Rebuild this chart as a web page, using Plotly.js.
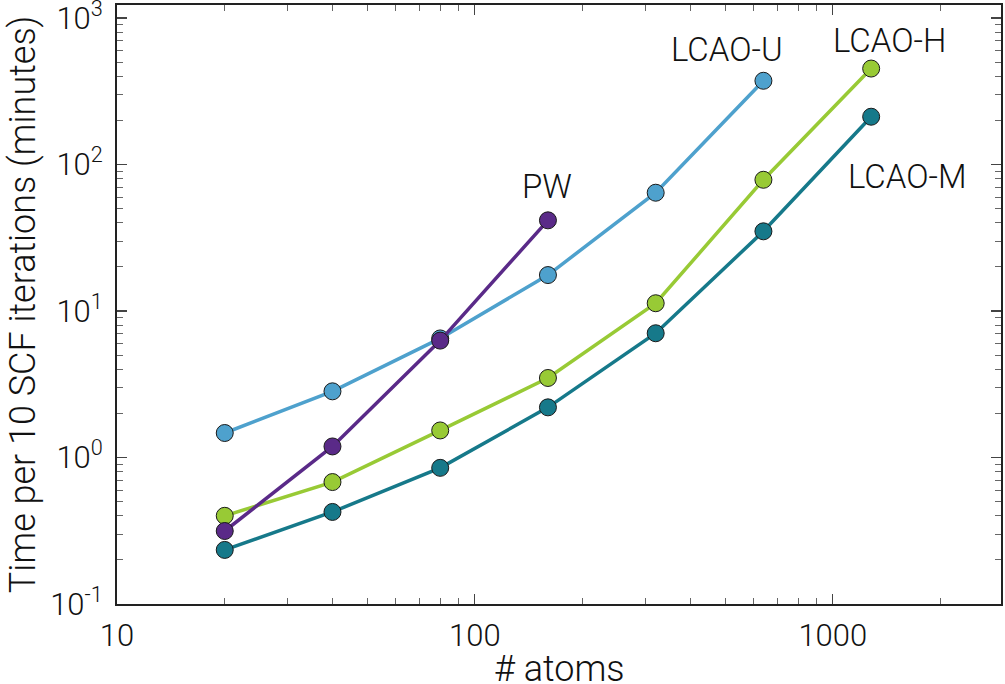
<!DOCTYPE html>
<html>
<head>
<meta charset="utf-8">
<script src="https://cdn.plot.ly/plotly-3.0.1.min.js"></script>
<style>html,body{margin:0;padding:0;background:#fff;}#chart{width:1005px;height:684px;}</style>
</head>
<body>
<div id="chart"></div>
<script>
// ---- data ----
const atoms = [20, 40, 80, 160, 320, 640, 1280];
const lcaoM = [0.234, 0.425, 0.85, 2.2, 7.05, 35.0, 212];
const lcaoH = [0.40, 0.68, 1.53, 3.49, 11.3, 78.7, 452];
const lcaoU = [1.47, 2.83, 6.5, 17.6, 64.2, 373];
const pw    = [0.315, 1.19, 6.28, 41.6];
const seriesNames = ['LCAO-M', 'LCAO-H', 'LCAO-U', 'PW'];
const xTickVals = [10, 100, 1000];
const xTickText = ['10', '100', '1000'];
const yTickVals = [0.1, 1, 10, 100, 1000];
const yTickText = ['10<sup>-1</sup>', '10<sup>0</sup>', '10<sup>1</sup>', '10<sup>2</sup>', '10<sup>3</sup>'];
const xMinor = [20,30,40,50,60,70,80,90,200,300,400,500,600,700,800,900,2000];
const yMinor = [];
[0.1, 1, 10, 100].forEach(d => { for (let k = 2; k <= 9; k++) yMinor.push(+(d * k).toPrecision(3)); });
const xTitle = '# atoms';
const yTitle = 'Time per 10 SCF iterations (minutes)';

const colors = {'LCAO-M': '#16798a', 'LCAO-H': '#98ca35', 'LCAO-U': '#4ea1cd', 'PW': '#5a2a88'};
const ys = {'LCAO-M': lcaoM, 'LCAO-H': lcaoH, 'LCAO-U': lcaoU, 'PW': pw};

const FONT = {family: '"Roboto Light", Roboto, "Open Sans", sans-serif', weight: 300, color: '#111'};

const traces = seriesNames.map(n => ({
  type: 'scatter', mode: 'lines+markers', name: n,
  x: atoms.slice(0, ys[n].length), y: ys[n],
  line: {color: colors[n], width: 3.5},
  marker: {color: colors[n], size: 17, line: {color: '#1a1a1a', width: 1}},
  cliponaxis: false
}));

const labelPos = {
  'PW': [2.201, 1.848],
  'LCAO-U': [2.704, 2.782],
  'LCAO-H': [3.159, 2.850],
  'LCAO-M': [3.209, 1.915]
};
const annotations = seriesNames.map(n => ({
  text: n, xref: 'x', yref: 'y', x: labelPos[n][0], y: labelPos[n][1],
  showarrow: false, xanchor: 'center', yanchor: 'middle',
  font: Object.assign({}, FONT, {size: 33})
}));
// x-axis title placed precisely below the tick labels
annotations.push({
  text: xTitle, xref: 'paper', yref: 'paper', x: 0.5, y: 0,
  xanchor: 'center', yanchor: 'middle', yshift: -65, showarrow: false,
  font: Object.assign({}, FONT, {size: 36})
});

const axisCommon = {
  type: 'log', showgrid: false, zeroline: false,
  showline: true, linecolor: '#222', linewidth: 2, mirror: 'allticks',
  ticks: 'inside', ticklen: 10, tickwidth: 1.2, tickcolor: '#444',
  tickmode: 'array', ticklabeloverflow: 'allow',
  tickfont: Object.assign({}, FONT, {size: 31}),
};

const layout = {
  width: 1005, height: 684,
  margin: {l: 117, r: 4, t: 5, b: 80},
  paper_bgcolor: '#fff', plot_bgcolor: '#fff',
  showlegend: false,
  font: FONT,
  xaxis: Object.assign({}, axisCommon, {
    range: [1, 3.47],
    tickvals: xTickVals, ticktext: xTickText,
    minor: {tickmode: 'array', tickvals: xMinor, ticks: 'inside', ticklen: 6, tickwidth: 1, tickcolor: '#666'},
    ticklabelstandoff: 3
  }),
  yaxis: Object.assign({}, axisCommon, {
    range: [-1, 3.089],
    tickvals: yTickVals, ticktext: yTickText,
    minor: {tickmode: 'array', tickvals: yMinor, ticks: 'inside', ticklen: 6, tickwidth: 1, tickcolor: '#666'},
    ticklabelstandoff: 6,
    title: {text: yTitle, font: Object.assign({}, FONT, {size: 36}), standoff: 4}
  }),
  annotations: annotations
};

Plotly.newPlot('chart', traces, layout, {displayModeBar: false, staticPlot: true});
</script>
</body>
</html>
